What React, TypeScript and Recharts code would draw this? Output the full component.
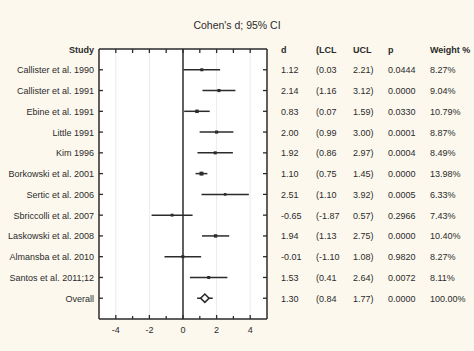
import React from 'react';
import {
  ComposedChart,
  Scatter,
  ErrorBar,
  XAxis,
  YAxis,
  CartesianGrid,
  ReferenceLine,
} from 'recharts';

const studies = [
  'Callister et al. 1990',
  'Callister et al. 1991',
  'Ebine et al. 1991',
  'Little 1991',
  'Kim 1996',
  'Borkowski et al. 2001',
  'Sertic et al. 2006',
  'Sbriccolli et al. 2007',
  'Laskowski et al. 2008',
  'Almansba et al. 2010',
  'Santos et al. 2011;12',
  'Overall',
];
const dValues = [1.12, 2.14, 0.83, 2.0, 1.92, 1.1, 2.51, -0.65, 1.94, -0.01, 1.53, 1.3];
const lclValues = [0.03, 1.16, 0.07, 0.99, 0.86, 0.75, 1.1, -1.87, 1.13, -1.1, 0.41, 0.84];
const uclValues = [2.21, 3.12, 1.59, 3.0, 2.97, 1.45, 3.92, 0.57, 2.75, 1.08, 2.64, 1.77];
const pValues = [0.0444, 0.0, 0.033, 0.0001, 0.0004, 0.0, 0.0005, 0.2966, 0.0, 0.982, 0.0072, 0.0];
const weights = [8.27, 9.04, 10.79, 8.87, 8.49, 13.98, 6.33, 7.43, 10.4, 8.27, 8.11, 100.0];

const xTicks = [-4, -3, -2, -1, 0, 1, 2, 3, 4];
const xLabels = [-4, -2, 0, 2, 4];
const rowTicks = [0, 1, 2, 3, 4, 5, 6, 7, 8, 9, 10, 11, 12];

const rows = studies.map((name, i) => ({
  name,
  row: i + 1,
  d: dValues[i],
  err: [dValues[i] - lclValues[i], uclValues[i] - dValues[i]],
  weight: weights[i],
}));
const studyRows = rows.slice(0, rows.length - 1);
const overallRow = rows.slice(rows.length - 1);

const INK = '#2b2b2b';
const FONT = '"Liberation Sans", Arial, sans-serif';
const FS = 9;

const LeftTick = (props: any) => {
  const { x, y, payload } = props;
  const v = payload.value;
  if (v === 0) {
    return (
      <text x={x - 5} y={y} dy={3.5} textAnchor="end" fontSize={FS} fontWeight="bold" fill={INK} fontFamily={FONT}>
        Study
      </text>
    );
  }
  return (
    <g>
      <line x1={x} x2={x + 4} y1={y} y2={y} stroke={INK} strokeWidth={1.3} />
      <text x={x - 5} y={y} dy={3.5} textAnchor="end" fontSize={FS} fill={INK} fontFamily={FONT}>
        {studies[v - 1]}
      </text>
    </g>
  );
};

const colOffsets = [14, 49, 86, 121, 163];

const RightTick = (props: any) => {
  const { x, y, payload } = props;
  const v = payload.value;
  if (v === 0) {
    const heads = ['d', '(LCL', 'UCL', 'p', 'Weight %'];
    return (
      <g>
        {heads.map((h, j) => (
          <text key={h} x={x + colOffsets[j]} y={y} dy={3.5} fontSize={FS} fontWeight="bold" fill={INK} fontFamily={FONT}>
            {h}
          </text>
        ))}
      </g>
    );
  }
  const i = v - 1;
  const cells = [
    dValues[i].toFixed(2),
    '(' + lclValues[i].toFixed(2),
    uclValues[i].toFixed(2) + ')',
    pValues[i].toFixed(4),
    weights[i].toFixed(2) + '%',
  ];
  return (
    <g>
      <line x1={x} x2={x - 4} y1={y} y2={y} stroke={INK} strokeWidth={1.3} />
      {cells.map((c, j) => (
        <text key={j} x={x + colOffsets[j]} y={y} dy={3.5} fontSize={FS} fill={INK} fontFamily={FONT}>
          {c}
        </text>
      ))}
    </g>
  );
};

const BottomTick = (props: any) => {
  const { x, y, payload } = props;
  const v = Number(payload.value);
  const major = xLabels.includes(v);
  return (
    <g>
      <line x1={x} x2={x} y1={y} y2={y - (major ? 4 : 3)} stroke={INK} strokeWidth={1.3} />
      {major && (
        <text x={x} y={y + 14} textAnchor="middle" fontSize={FS} fill={INK} fontFamily={FONT}>
          {v}
        </text>
      )}
    </g>
  );
};

const TopTick = (props: any) => {
  const { x, y } = props;
  return <line x1={x} x2={x} y1={y} y2={y + 4} stroke={INK} strokeWidth={1.3} />;
};

// marker area grows with study weight
const StudyMarker = (props: any) => {
  const { cx, cy, payload } = props;
  const s = 1.05 * Math.sqrt(payload.weight);
  return <rect x={cx - s / 2} y={cy - s / 2} width={s} height={s} fill={INK} />;
};

const OverallMarker = (props: any) => {
  const { cx, cy } = props;
  const h = 4.2;
  return (
    <polygon
      points={`${cx - h},${cy} ${cx},${cy - h} ${cx + h},${cy} ${cx},${cy + h}`}
      fill="#fff"
      stroke={INK}
      strokeWidth={1.6}
    />
  );
};

const Empty = () => <g />;

export default function App() {
  return (
    <div style={{ position: 'absolute', left: 0, top: 0, width: 474, height: 351, background: '#fcf8ee' }}>
      <div
        style={{
          position: 'absolute',
          top: 19,
          width: 474,
          textAlign: 'center',
          fontFamily: FONT,
          fontSize: 10.5,
          color: INK,
        }}
      >
        Cohen's d; 95% CI
      </div>
      <ComposedChart
        width={474}
        height={351}
        data={rows}
        margin={{ top: 48, right: 206, bottom: 31, left: 98 }}
      >
        <CartesianGrid
          xAxisId="x"
          yAxisId="y"
          horizontal={false}
          verticalValues={[-4, -2, 2, 4]}
          stroke="#ececec"
          strokeWidth={1}
          fill="#fff"
          fillOpacity={1}
        />
        <XAxis
          xAxisId="x"
          type="number"
          dataKey="d"
          domain={[-5, 5]}
          ticks={xTicks}
          interval={0}
          allowDataOverflow
          height={1}
          tickSize={0}
          tickMargin={0}
          tickLine={false}
          tick={<BottomTick />}
          axisLine={{ stroke: INK, strokeWidth: 1.5 }}
        />
        <XAxis
          xAxisId="top"
          orientation="top"
          type="number"
          dataKey="d"
          domain={[-5, 5]}
          ticks={xTicks}
          interval={0}
          allowDataOverflow
          height={1}
          tickSize={0}
          tickMargin={0}
          tickLine={false}
          tick={<TopTick />}
          axisLine={{ stroke: INK, strokeWidth: 1.5 }}
        />
        <YAxis
          yAxisId="y"
          type="number"
          dataKey="row"
          domain={[0, 13]}
          ticks={rowTicks}
          reversed
          allowDataOverflow
          width={1}
          tickSize={0}
          tickMargin={0}
          tickLine={false}
          tick={<LeftTick />}
          interval={0}
          axisLine={{ stroke: INK, strokeWidth: 1.5 }}
        />
        <YAxis
          yAxisId="right"
          orientation="right"
          type="number"
          dataKey="row"
          domain={[0, 13]}
          ticks={rowTicks}
          reversed
          allowDataOverflow
          width={1}
          tickSize={0}
          tickMargin={0}
          tickLine={false}
          tick={<RightTick />}
          interval={0}
          axisLine={{ stroke: INK, strokeWidth: 1.5 }}
        />
        <ReferenceLine xAxisId="x" yAxisId="y" x={0} stroke={INK} strokeWidth={1.5} />
        <Scatter
          xAxisId="top"
          yAxisId="right"
          data={rows}
          dataKey="row"
          shape={<Empty />}
          isAnimationActive={false}
        />
        <Scatter
          xAxisId="x"
          yAxisId="y"
          data={studyRows}
          dataKey="row"
          shape={<StudyMarker />}
          isAnimationActive={false}
        >
          <ErrorBar dataKey="err" direction="x" width={0} stroke={INK} strokeWidth={1.5} isAnimationActive={false} />
        </Scatter>
        <Scatter
          xAxisId="x"
          yAxisId="y"
          data={overallRow}
          dataKey="row"
          shape={<OverallMarker />}
          isAnimationActive={false}
        >
          <ErrorBar dataKey="err" direction="x" width={0} stroke={INK} strokeWidth={1.5} isAnimationActive={false} />
        </Scatter>
      </ComposedChart>
    </div>
  );
}
